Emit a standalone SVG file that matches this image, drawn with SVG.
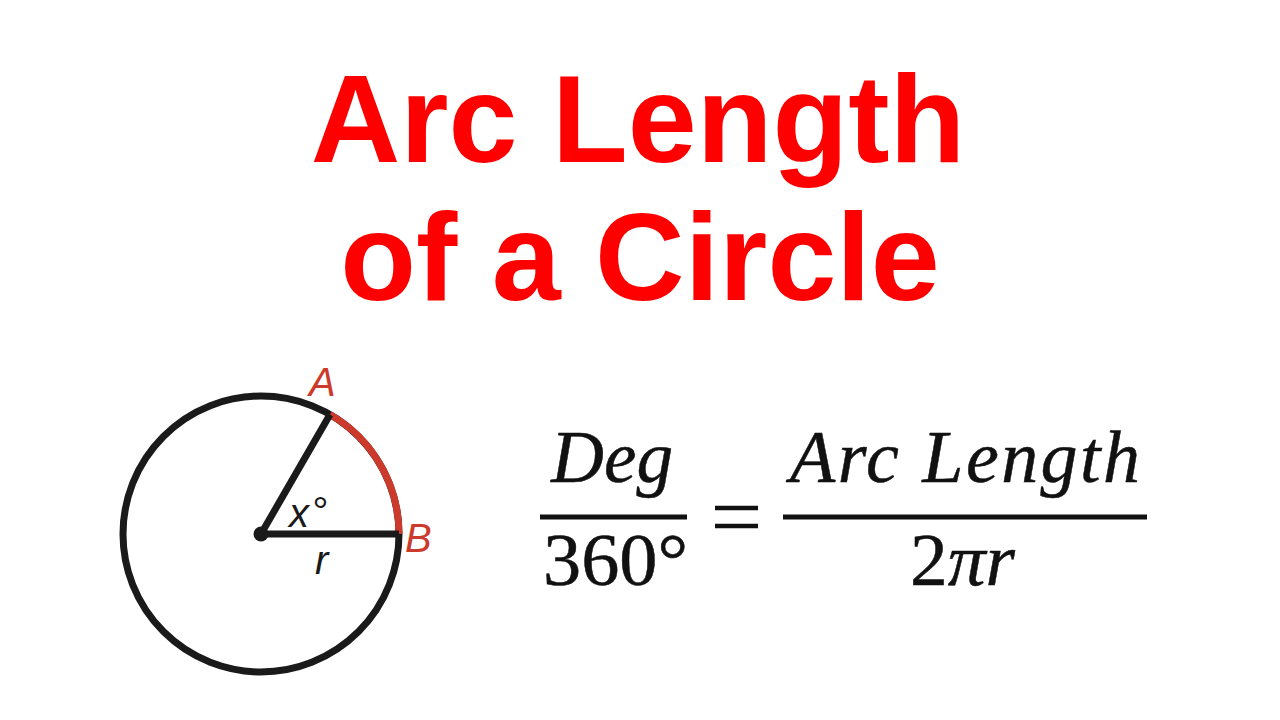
<svg xmlns="http://www.w3.org/2000/svg" width="1280" height="720" viewBox="0 0 1280 720">
  <style>
    .title { font-family: "Liberation Sans", Arial, sans-serif; font-weight: bold; font-size: 124px; fill: #ff0000; text-anchor: middle; }
    .lbl { font-family: "Liberation Sans", Arial, sans-serif; font-style: italic; font-size: 40px; }
    .red { fill: #cc3a2c; }
    .blk { fill: #1a1a1a; }
    .math { font-family: "Liberation Serif", "Times New Roman", serif; font-size: 74px; fill: #111; stroke: #111; stroke-width: 0.5; }
    .it { font-style: italic; }
    .bar { stroke: #111; stroke-width: 5; }
  </style>
  <rect width="1280" height="720" fill="#ffffff"/>
  <g id="title">
    <text class="title" x="638" y="162">Arc Length</text>
    <text class="title" x="640" y="300">of a Circle</text>
  </g>
  <g id="circle-figure">
    <circle cx="261" cy="534" r="138" fill="none" stroke="#1a1a1a" stroke-width="7"/>
    <path d="M330,414.5 A138,138 0 0 1 399,534" fill="none" stroke="#cc3a2c" stroke-width="7"/>
    <line x1="261" y1="534" x2="330" y2="414.5" stroke="#1a1a1a" stroke-width="7"/>
    <line x1="261" y1="534" x2="399" y2="534" stroke="#1a1a1a" stroke-width="7"/>
    <circle cx="261" cy="534" r="7.5" fill="#1a1a1a"/>
    <text class="lbl red" x="309" y="396" font-size="42">A</text>
    <text class="lbl red" x="405" y="552" font-size="42">B</text>
    <text class="lbl blk" x="289" y="527" font-size="44">x<tspan dx="2" dy="-2">°</tspan></text>
    <text class="lbl blk" x="315" y="574" font-size="44">r</text>
  </g>
  <g id="equation">
    <text class="math it" x="551" y="482" textLength="122" lengthAdjust="spacingAndGlyphs">Deg</text>
    <line class="bar" x1="540" y1="517" x2="687" y2="517"/>
    <text class="math" x="543" y="585" textLength="145" lengthAdjust="spacingAndGlyphs">360°</text>
    <line x1="715" y1="508" x2="758" y2="508" stroke="#111" stroke-width="4.5"/>
    <line x1="715" y1="526" x2="758" y2="526" stroke="#111" stroke-width="4.5"/>
    <text class="math it" x="790" y="482" textLength="350" lengthAdjust="spacing">Arc Length</text>
    <line class="bar" x1="783" y1="517" x2="1147" y2="517"/>
    <text class="math" x="910" y="585" textLength="105" lengthAdjust="spacingAndGlyphs">2<tspan class="it">πr</tspan></text>
  </g>
</svg>
